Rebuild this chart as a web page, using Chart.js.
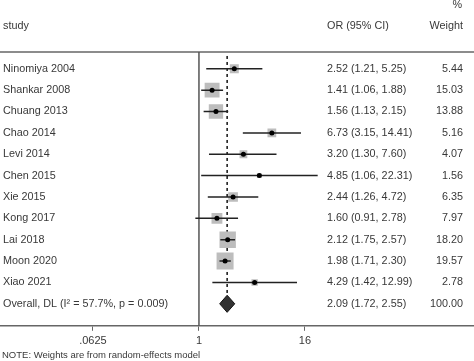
<!DOCTYPE html>
<html>
<head>
<meta charset="utf-8">
<script src="https://cdn.jsdelivr.net/npm/chart.js@4.4.1/dist/chart.umd.min.js"></script>
<style>
  html, body { margin: 0; padding: 0; background: #fff; }
  #wrap { width: 474px; height: 361px; }
</style>
</head>
<body>
<div id="wrap"><canvas id="c"></canvas></div>
<script>
const studies = ['Ninomiya 2004', 'Shankar 2008', 'Chuang 2013', 'Chao 2014', 'Levi 2014', 'Chen 2015',
  'Xie 2015', 'Kong 2017', 'Lai 2018', 'Moon 2020', 'Xiao 2021']
const orValues = [2.52, 1.41, 1.56, 6.73, 3.20, 4.85, 2.44, 1.60, 2.12, 1.98, 4.29]
const ciLow = [1.21, 1.06, 1.13, 3.15, 1.30, 1.06, 1.26, 0.91, 1.75, 1.71, 1.42]
const ciHigh = [5.25, 1.88, 2.15, 14.41, 7.60, 22.31, 4.72, 2.78, 2.57, 2.30, 12.99]
const weights = [5.44, 15.03, 13.88, 5.16, 4.07, 1.56, 6.35, 7.97, 18.20, 19.57, 2.78]

const overallLabel = 'Overall, DL (I\u00B2 = 57.7%, p = 0.009)'
const overallOR = 2.09
const overallLow = 1.72
const overallHigh = 2.55
const overallWeight = '100.00'

const tickValues = [0.0625, 1, 16]
const tickLabels = ['.0625', '1', '16']

const overallRow = studies.length
const fmt = v => v.toFixed(2)
const font = '10.8px "Liberation Sans", Arial, sans-serif'
const textColor = '#383838'

const ciSets = studies.map((s, i) => ({
  type: 'line',
  data: [{ x: ciLow[i], y: i }, { x: ciHigh[i], y: i }],
  borderColor: '#222', borderWidth: 1.5, pointRadius: 0, order: 2
}))

const textPlugin = {
  id: 'forestText',
  afterDraw(chart) {
    const { ctx } = chart
    const y = chart.scales.y
    ctx.save()
    ctx.font = font
    ctx.fillStyle = textColor
    ctx.textBaseline = 'middle'
    const rows = studies.map((s, i) => [s, fmt(orValues[i]) + ' (' + fmt(ciLow[i]) + ', ' + fmt(ciHigh[i]) + ')', fmt(weights[i])])
    rows.push([overallLabel, fmt(overallOR) + ' (' + fmt(overallLow) + ', ' + fmt(overallHigh) + ')', overallWeight])
    rows.forEach((r, i) => {
      const py = y.getPixelForValue(i)
      ctx.textAlign = 'left'
      ctx.fillText(r[0], 3, py)
      ctx.fillText(r[1], 327, py)
      ctx.textAlign = 'right'
      ctx.fillText(r[2], 463, py)
    })
    const hy = y.getPixelForValue(-2)
    ctx.textAlign = 'left'
    ctx.fillText('study', 3, hy)
    ctx.fillText('OR (95% CI)', 327, hy)
    ctx.textAlign = 'right'
    ctx.fillText('Weight', 463, hy)
    ctx.fillText('%', 462, y.getPixelForValue(-2.97))
    ctx.textAlign = 'left'
    ctx.font = '9.5px "Liberation Sans", Arial, sans-serif'
    ctx.fillText('NOTE: Weights are from random-effects model', 2, 355)
    ctx.restore()
  }
}

new Chart(document.getElementById('c'), {
  type: 'scatter',
  data: {
    datasets: [
      {
        data: studies.map((s, i) => ({ x: orValues[i], y: i })),
        pointStyle: 'circle', pointRadius: 2.5, backgroundColor: '#000', borderWidth: 0, order: 1
      },
      ...ciSets,
      {
        data: studies.map((s, i) => ({ x: orValues[i], y: i })),
        pointStyle: 'rect',
        pointRadius: ctx => 2.72 * Math.sqrt(weights[ctx.dataIndex]),
        backgroundColor: '#bdbdbd', borderWidth: 0, order: 3
      },
      {
        type: 'line',
        data: [
          { x: overallLow, y: overallRow }, { x: overallOR, y: overallRow - 0.4 },
          { x: overallHigh, y: overallRow }, { x: overallOR, y: overallRow + 0.4 },
          { x: overallLow, y: overallRow }
        ],
        fill: 'shape', backgroundColor: '#333', borderColor: '#111', borderWidth: 1,
        pointRadius: 0, tension: 0, order: 1
      },
      {
        type: 'line',
        data: [{ x: overallOR, y: -0.6 }, { x: overallOR, y: overallRow - 0.4 }],
        borderColor: '#111', borderWidth: 1.5, borderDash: [3, 3], pointRadius: 0, order: 4
      },
      {
        type: 'line',
        data: [{ x: 1, y: -0.79 }, { x: 1, y: 12.1 }],
        borderColor: '#555', borderWidth: 1.5, pointRadius: 0, order: 4
      },
      {
        type: 'line',
        data: [{ x: 0.0055, y: -0.79 }, { x: 1330, y: -0.79 }],
        borderColor: '#666', borderWidth: 1.5, pointRadius: 0, order: 4
      }
    ]
  },
  options: {
    responsive: true,
    maintainAspectRatio: false,
    animation: false,
    layout: { autoPadding: false, padding: { left: 0, right: 0, top: 0, bottom: 9 } },
    plugins: { legend: { display: false }, tooltip: { enabled: false } },
    scales: {
      x: {
        type: 'logarithmic',
        min: 0.0055, max: 1330,
        afterBuildTicks: s => { s.ticks = tickValues.map(v => ({ value: v })) },
        afterFit: s => { s.paddingLeft = 0; s.paddingRight = 0 },
        ticks: {
          autoSkip: false, maxRotation: 0, padding: 4,
          color: textColor, font: { family: '"Liberation Sans", Arial, sans-serif', size: 11 },
          callback: (v) => tickLabels[tickValues.indexOf(v)]
        },
        grid: { drawOnChartArea: false, drawTicks: true, tickLength: 5, color: '#666', lineWidth: 1 },
        border: { color: '#666', width: 1.5 }
      },
      y: { type: 'linear', display: false, reverse: true, min: -3.22, max: 12.03 }
    }
  },
  plugins: [textPlugin]
})
</script>
</body>
</html>
